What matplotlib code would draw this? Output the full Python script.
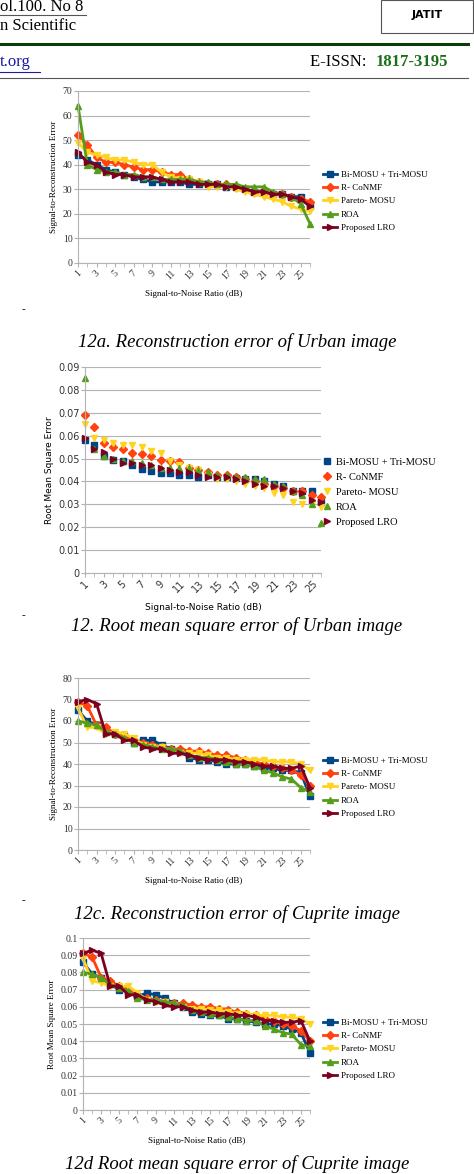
import numpy as np
import matplotlib
matplotlib.use("Agg")
import matplotlib.pyplot as plt

snr = list(range(1, 27))
tick_labels = [str(i) for i in range(1, 27, 2)]
series_names = ["Bi-MOSU + Tri-MOSU", "R- CoNMF", "Pareto- MOSU", "ROA", "Proposed LRO"]
colors = ["#004586", "#ff420e", "#ffd320", "#579d1c", "#7e0021"]
markers = ["s", "D", "v", "^", ">"]

# 12a urban SRE
urban_sre = [
    [44,42,40,38,37,36,35,34,33,33,33,33,32,32,32,32,31,31,30,29,29,28,28,27,27,23],
    [52,48,43,41,41,40,39,38,38,37,36,36,34,33,32,32,32,31,30,29,29,28,28,27,26,25],
    [49,45,44,43,42,42,41,40,40,37,35,34,34,33,31,31,31,30,29,28,27,26,25,23,22,21],
    [64,40,38,37,37,36,36,35,35,34,34,34,34,33,33,32,32,32,31,31,31,29,28,27,24,16],
    [45,41,40,37,36,36,35,35,35,34,33,33,33,32,32,32,31,31,30,29,29,28,28,27,26,23],
]
# 12b urban RMSE
urban_rmse = [
    [.058,.056,.051,.0495,.049,.047,.0455,.0445,.0435,.0435,.043,.043,.042,.043,.042,.042,.0415,.041,.041,.040,.039,.038,.036,.036,.036,.031],
    [.069,.064,.057,.055,.054,.0525,.052,.051,.0495,.049,.0485,.046,.045,.044,.043,.043,.042,.041,.040,.039,.038,.037,.036,.036,.034,.033],
    [.065,.059,.058,.057,.056,.056,.055,.0535,.0525,.049,.047,.046,.045,.043,.041,.041,.040,.039,.038,.037,.035,.034,.031,.030,.030,.029],
    [.085,.054,.051,.050,.049,.049,.048,.047,.046,.046,.046,.046,.045,.044,.043,.043,.042,.042,.041,.041,.039,.038,.036,.034,.030,.022],
    [.059,.054,.053,.050,.048,.048,.047,.047,.046,.045,.044,.044,.043,.042,.042,.042,.041,.040,.039,.038,.038,.037,.036,.035,.032,.031],
]
# 12c cuprite SRE
cuprite_sre = [
    [65,60,58,55,54,53,50,51,51,49,47,46,43,42,42,41,40,40,40,39,38,38,37,37,36,25],
    [69,67,58,57,54,53,51,50,49,48,47,47,46,46,45,44,44,43,42,41,40,39,38,37,35,30],
    [66,57,57,54,55,54,52,49,48,48,46,45,45,45,44,43,43,42,42,42,42,41,41,41,40,37],
    [60,59,58,55,54,52,50,49,48,47,47,46,44,43,43,42,41,40,40,39,37,36,34,33,29,27],
    [69,70,68,54,54,51,51,48,47,47,45,45,44,43,42,42,42,41,41,40,39,39,38,38,39,29],
]
# 12d cuprite RMSE
cuprite_rmse = [
    [.086,.079,.077,.073,.070,.069,.066,.068,.067,.065,.062,.060,.057,.056,.055,.055,.053,.053,.052,.051,.050,.050,.049,.047,.045,.033],
    [.091,.089,.077,.075,.072,.070,.066,.065,.064,.063,.062,.062,.061,.060,.060,.059,.058,.057,.056,.055,.053,.052,.050,.049,.046,.040],
    [.088,.075,.074,.072,.072,.072,.068,.064,.063,.063,.061,.060,.059,.059,.058,.058,.057,.056,.056,.055,.055,.055,.054,.054,.053,.050],
    [.080,.079,.077,.073,.071,.069,.065,.064,.064,.063,.062,.061,.058,.057,.056,.055,.054,.053,.052,.052,.049,.047,.045,.044,.038,.037],
    [.091,.093,.091,.072,.072,.067,.067,.064,.063,.061,.060,.060,.058,.057,.057,.056,.056,.055,.055,.054,.052,.052,.051,.051,.052,.040],
]

W, H = 474, 1174
fig = plt.figure(figsize=(W / 100, H / 100), dpi=100)
SERIF = "Liberation Serif"

def box(l, r, t, b):
    return [l / W, 1 - b / H, (r - l) / W, (b - t) / H]

def chart(rect, data, ymax, ystep, ylabel, lines, font, leg_y, ydec, leg_size=6.5):
    ax = fig.add_axes(box(*rect))
    for vals, c, m, n in zip(data, colors, markers, series_names):
        ax.plot(snr, vals, color=c, marker=m, markersize=4.5, lw=2 if lines else 0,
                label=n, clip_on=False)
    ax.set_xlim(1, 26)
    ax.set_ylim(0, ymax)
    ticks = np.arange(0, ymax + ystep / 2, ystep)
    ax.set_yticks(ticks)
    ax.set_yticklabels([("%.*f" % (ydec, v)).rstrip("0").rstrip(".") if ydec else "%d" % v
                        for v in ticks], fontsize=7, family=font, color="#333333")
    ax.set_xticks(range(1, 27, 2))
    ax.set_xticklabels(tick_labels, rotation=45, fontsize=7, family=font, color="#333333")
    ax.set_xticks(range(1, 27), minor=True)
    ax.grid(axis="y", color="#b3b3b3", lw=0.8)
    for s in ["top", "right"]:
        ax.spines[s].set_visible(False)
    ax.spines["left"].set_color("#b3b3b3")
    ax.spines["bottom"].set_color("#b3b3b3")
    ax.tick_params(length=3, color="#b3b3b3", pad=1)
    ax.tick_params(which="minor", length=3, color="#b3b3b3")
    ax.set_ylabel(ylabel, fontsize=6.5, family=font, labelpad=3)
    ax.set_xlabel("Signal-to-Noise Ratio (dB)", fontsize=6.5, family=font, labelpad=6)
    ax.legend(loc="upper left", bbox_to_anchor=(318 / W, 1 - leg_y / H),
              bbox_transform=fig.transFigure, frameon=False,
              prop={"family": SERIF, "size": leg_size}, handlelength=1.6 if lines else 0.8,
              labelspacing=0.55, borderpad=0, handletextpad=0.4)
    return ax

chart((78, 310, 91, 263), urban_sre, 70, 10, "Signal-to-Reconstruction Error", True, SERIF, 166, 0)
chart((85, 321, 367, 573), urban_rmse, 0.09, 0.01, "Root Mean Square Error", False, "DejaVu Sans", 452, 2, 7.5)
chart((78, 310, 678, 850), cuprite_sre, 80, 10, "Signal-to-Reconstruction Error", True, SERIF, 752, 0)
chart((83, 310, 938, 1110), cuprite_rmse, 0.1, 0.01, "Root Mean Square Error", True, SERIF, 1014, 2)

captions = [(342, "12a. Reconstruction error of Urban image"),
            (626, "12. Root mean square error of Urban image"),
            (914, "12c. Reconstruction error of Cuprite image"),
            (1164, "12d Root mean square error of Cuprite image")]
for y, t in captions:
    fig.text(237 / W, 1 - y / H, t, ha="center", va="center", fontsize=13.5,
             family=SERIF, style="italic")
for y in (312, 618, 903):
    fig.text(22 / W, 1 - y / H, "-", fontsize=8, family=SERIF)

# page header
fig.text(0, 1 - 7 / H, "ol.100. No 8", fontsize=12, family=SERIF, va="center")
fig.add_artist(plt.Line2D([0, 86 / W], [1 - 15 / H] * 2, color="#555555", lw=0.8))
fig.text(0, 1 - 26 / H, "n Scientific", fontsize=12, family=SERIF, va="center")
fig.add_artist(plt.Line2D([0, 468 / W], [1 - 44 / H] * 2, color="#0b3d0b", lw=2.2))
fig.text(0, 1 - 62 / H, "t.org", fontsize=12, family=SERIF, va="center", color="#1a1aa6")
fig.add_artist(plt.Line2D([0, 40 / W], [1 - 72 / H] * 2, color="#1a1aa6", lw=0.8))
fig.text(310 / W, 1 - 62 / H, "E-ISSN: ", fontsize=12, family=SERIF, va="center")
fig.text(376 / W, 1 - 62 / H, "1817-3195", fontsize=12, family=SERIF, va="center",
         color="#1a6e1a", weight="bold")
fig.add_artist(plt.Line2D([0, 468 / W], [1 - 78 / H] * 2, color="#555555", lw=0.8))
fig.add_artist(plt.Rectangle((381 / W, 1 - 33 / H), 92 / W, 33 / H, fill=False,
                             edgecolor="#555555", lw=0.8))
fig.text(427 / W, 1 - 15 / H, "JATIT", fontsize=8, weight="bold", ha="center", va="center")

fig.savefig("out.png", dpi=100)
